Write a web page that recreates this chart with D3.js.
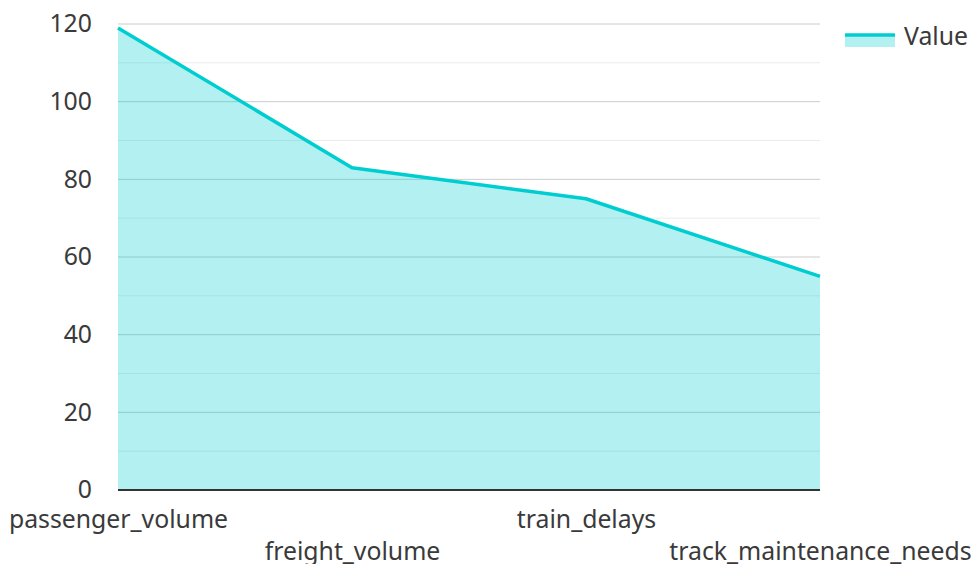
<!DOCTYPE html>
<html>
<head>
<meta charset="utf-8">
<script src="https://cdn.jsdelivr.net/npm/d3@7"></script>
<style>
  html, body { margin: 0; padding: 0; background: #fff; }
  svg { display: block; font-family: "Noto Sans", sans-serif; }
</style>
</head>
<body>
<svg id="chart" width="972" height="564"></svg>
<script>
// Rail metrics shown as a single area series
const categories = ["passenger_volume", "freight_volume", "train_delays", "track_maintenance_needs"];
const values = [119, 83, 75, 55];
const yTicks = [0, 20, 40, 60, 80, 100, 120];
const yMinorTicks = [10, 30, 50, 70, 90, 110];
const seriesName = "Value";

const svg = d3.select("#chart");
const margin = { left: 118, right: 152, top: 24, bottom: 74 };
const width = 972, height = 564;
const fontSize = 24.8;

const x = d3.scalePoint().domain(categories).range([margin.left, width - margin.right]);
const y = d3.scaleLinear().domain([0, 120]).range([height - margin.bottom, margin.top]);

const lineColor = "#00cdd0";
const fillColor = "rgba(0, 205, 208, 0.3)";
const textColor = "#3a3a3a";

// Grid lines: minor every 10, major every 20
svg.append("g").selectAll("line.minor").data(yMinorTicks).join("line")
  .attr("x1", margin.left).attr("x2", width - margin.right)
  .attr("y1", d => y(d)).attr("y2", d => y(d))
  .attr("stroke", "#ebebeb").attr("stroke-width", 1);

svg.append("g").selectAll("line.major").data(yTicks.filter(d => d > 0)).join("line")
  .attr("x1", margin.left).attr("x2", width - margin.right)
  .attr("y1", d => y(d)).attr("y2", d => y(d))
  .attr("stroke", "#cccccc").attr("stroke-width", 1);

// Area and outline
const pts = categories.map((c, i) => ({ c, v: values[i] }));
const area = d3.area().x(d => x(d.c)).y0(y(0)).y1(d => y(d.v));
const line = d3.line().x(d => x(d.c)).y(d => y(d.v));

svg.append("path").datum(pts).attr("d", area).attr("fill", fillColor);
svg.append("path").datum(pts).attr("d", line)
  .attr("fill", "none").attr("stroke", lineColor).attr("stroke-width", 3.5)
  .attr("stroke-linejoin", "round");

// Baseline
svg.append("line")
  .attr("x1", margin.left).attr("x2", width - margin.right)
  .attr("y1", y(0)).attr("y2", y(0))
  .attr("stroke", "#333").attr("stroke-width", 2);

// Y axis labels
const yAxis = d3.axisLeft(y).tickValues(yTicks).tickSize(0).tickPadding(26);
const yg = svg.append("g").attr("transform", `translate(${margin.left},0)`).call(yAxis);
yg.select(".domain").remove();
yg.selectAll("text").attr("font-size", fontSize).attr("fill", textColor)
  .attr("font-family", "Noto Sans, sans-serif");

// X axis labels, staggered on two rows
const xAxis = d3.axisBottom(x).tickSize(0).tickPadding(0);
const xg = svg.append("g").attr("transform", `translate(0,${y(0)})`).call(xAxis);
xg.select(".domain").remove();
xg.selectAll("text")
  .attr("font-size", fontSize).attr("fill", textColor)
  .attr("font-family", "Noto Sans, sans-serif")
  .attr("dy", null)
  .attr("y", (d, i) => i % 2 === 0 ? 38 : 70);

// Legend
const lg = svg.append("g").attr("transform", "translate(845, 36)");
lg.append("rect").attr("x", 0).attr("y", 0).attr("width", 50).attr("height", 11).attr("fill", fillColor);
lg.append("line").attr("x1", 0).attr("x2", 50).attr("y1", -1).attr("y2", -1)
  .attr("stroke", lineColor).attr("stroke-width", 3.5);
lg.append("text").attr("x", 59).attr("y", 0).attr("dy", "0.35em")
  .attr("font-size", fontSize).attr("fill", textColor).text(seriesName);
</script>
</body>
</html>
